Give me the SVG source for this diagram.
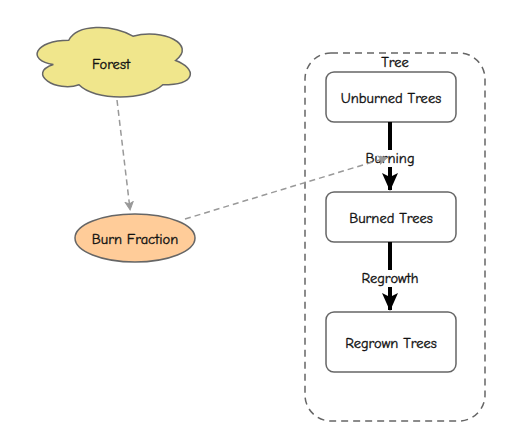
<svg xmlns="http://www.w3.org/2000/svg" width="510" height="444" viewBox="0 0 510 444">
<defs>
<style>
text{font-family:"Comic Sans MS","Comic Neue","DejaVu Sans","Liberation Sans",sans-serif;font-size:14.5px;fill:#111;stroke:#111;stroke-width:0.35;text-anchor:middle;dominant-baseline:central}
.box{fill:#fff;stroke:#666;stroke-width:1.5}
.dash{fill:none;stroke:#999;stroke-width:1.5;stroke-dasharray:6 4}
.flow{fill:none;stroke:#000;stroke-width:4}
.lbl{fill:#fff;stroke:none}
</style>
<marker id="ga" markerWidth="10" markerHeight="10" refX="8" refY="5" orient="auto" markerUnits="userSpaceOnUse"><path d="M1,1 L9,5 L1,9 L3,5 Z" fill="#999" stroke="#999"/></marker>
<marker id="ba" markerWidth="20" markerHeight="20" refX="18" refY="10" orient="auto" markerUnits="userSpaceOnUse"><path d="M1,2 L19,10 L1,18 L5,10 Z" fill="#000"/></marker>
</defs>
<rect width="510" height="444" fill="#fff"/>
<g id="tree-container">
<rect x="305" y="53" width="180" height="368" rx="26" fill="none" stroke="#666" stroke-width="1.5" stroke-dasharray="7 5"/>
<text x="395" y="62">Tree</text>
</g>
<g id="forest">
<path d="M68.75 40.25 C34.55 40.25 26 60.5 53.36 64.55 C26 73.46 56.78 92.9 79.01 84.8 C94.4 101 145.7 101 162.8 84.8 C197 84.8 197 68.6 175.6 60.5 C197 44.3 162.8 28.1 132.9 36.2 C111.5 24.05 77.3 24.05 68.75 40.25 Z" fill="#f0e68c" stroke="#666" stroke-width="1.5"/>
<text x="111" y="64">Forest</text>
</g>
<g id="burn-fraction">
<ellipse cx="135" cy="238" rx="60" ry="24" fill="#ffcc99" stroke="#666" stroke-width="1.5"/>
<text x="135" y="239">Burn Fraction</text>
</g>
<g id="unburned">
<rect class="box" x="326" y="72" width="130" height="50" rx="8"/>
<text x="391" y="98">Unburned Trees</text>
</g>
<g id="burned">
<rect class="box" x="326" y="192" width="130" height="50" rx="8"/>
<text x="391" y="218">Burned Trees</text>
</g>
<g id="regrown">
<rect class="box" x="326" y="312" width="130" height="60" rx="8"/>
<text x="391" y="343">Regrown Trees</text>
</g>
<g id="connectors">
<path class="dash" d="M117 100 L130 209" marker-end="url(#ga)"/>
<path class="flow" d="M390 122 L390 190" marker-end="url(#ba)"/>
<rect class="lbl" x="364" y="150" width="52" height="17"/>
<text x="390" y="158">Burning</text>
<path class="dash" d="M185 219 L386 158" marker-end="url(#ga)"/>
<path class="flow" d="M390 242 L390 310" marker-end="url(#ba)"/>
<rect class="lbl" x="358" y="270" width="64" height="17"/>
<text x="390" y="278">Regrowth</text>
</g>
</svg>
